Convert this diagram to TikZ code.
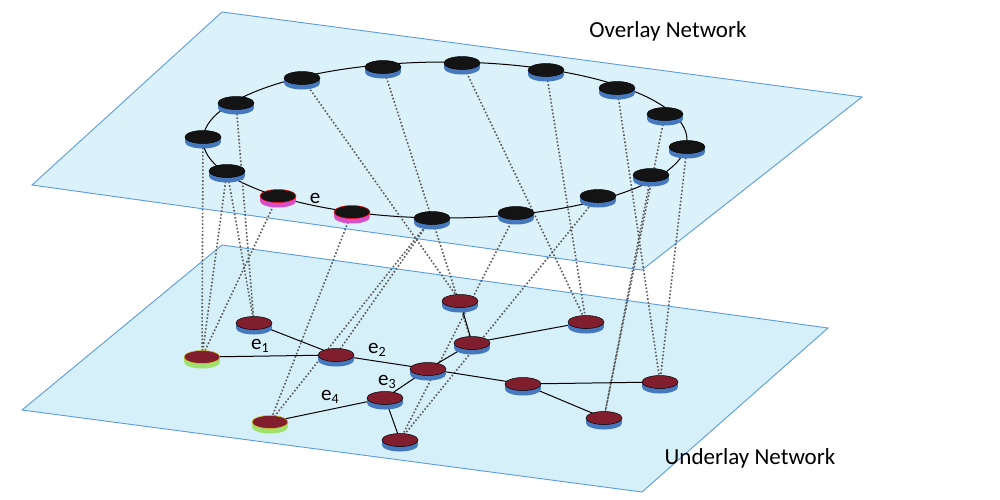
\documentclass[tikz,border=0pt]{standalone}
\usepackage{fontspec}
\setmainfont{Carlito}
\usetikzlibrary{shapes.geometric}
\definecolor{plane}{RGB}{214,240,250}
\definecolor{planeedge}{RGB}{90,155,225}
\definecolor{rim}{RGB}{70,120,190}
\definecolor{ovtop}{RGB}{20,20,20}
\definecolor{untop}{RGB}{128,30,45}
\definecolor{pinkrim}{RGB}{215,80,200}
\definecolor{greenrim}{RGB}{160,225,110}
\tikzset{
  plane/.style={fill=plane,draw=planeedge,line width=0.9pt},
  link/.style={dotted,gray!70!black,line width=1.6pt},
  edge/.style={black,line width=1pt},
  disk/.style={ellipse,inner sep=0pt,minimum width=36pt,minimum height=13pt,draw=black,line width=0.5pt},
  lbl/.style={font=\fontsize{21}{21}\selectfont},
  title/.style={font=\fontsize{23}{23}\selectfont}
}
% \dsk{name}{x}{y}{top}{rim}{border}
\newcommand\dsk[6]{%
  \fill[#5] (#2-18,#3) rectangle (#2+18,#3+5);
  \fill[#5] (#2,#3+5) ellipse (18 and 6.5);
  \node[disk,fill=#4,draw=#6] (#1) at (#2,#3) {};}
\newcommand\sub[1]{\raisebox{-0.35ex}{\fontsize{14}{14}\selectfont #1}}
\begin{document}
\begin{tikzpicture}[x=1pt,y=-1pt]
\useasboundingbox (0,0) rectangle (1000,499);
% planes
\path[plane] (222,245) -- (828,328) -- (642,492) -- (22,410) -- cycle;
\path[plane,fill opacity=0.85] (222,12) -- (862,97) -- (642,270) -- (32,185) -- cycle;
\node[title] (ot) at (668,31) {Overlay Network};
\node[title] (ut) at (750,458) {Underlay Network};
% ring
\draw[edge] (445,140) ellipse (242 and 78);
\foreach \n/\x/\y in {o1/203/137,o2/236/103,o3/302/78,o4/383/67,o5/462/63,o6/546/70,o7/617/88,o8/665/114,o9/687/147,o10/651/175,o11/598/196,o12/516/213,o13/432/218,o14/352/212,o15/278/196,o16/227/171,
 a/254/323,b/202/357,c/336/355,d/460/301,e/472/343,f/586/322,g/428/369,h/385/398,i/270/422,j/400/440,k/523/384,l/660/382,m/604/418}
  \coordinate (p\n) at (\x,\y);
% dotted links
\foreach \u/\v in {o1/b,o2/a,o16/a,o15/b,o14/i,o3/d,o4/e,o5/f,o6/f,o7/l,o8/m,o9/l,o10/m,o11/j,o12/j,o13/i,o13/c,o16/b}
  \draw[link] (p\u) -- (p\v);
% underlay edges
\foreach \u/\v in {a/c,b/c,c/g,d/e,e/g,e/f,g/h,h/i,h/j,g/k,k/l,k/m}
  \draw[edge] (p\u) -- (p\v);
% overlay disks
\dsk{n1}{203}{137}{ovtop}{rim}{black}
\dsk{n2}{236}{103}{ovtop}{rim}{black}
\dsk{n3}{302}{78}{ovtop}{rim}{black}
\dsk{n4}{383}{67}{ovtop}{rim}{black}
\dsk{n5}{462}{63}{ovtop}{rim}{black}
\dsk{n6}{546}{70}{ovtop}{rim}{black}
\dsk{n7}{617}{88}{ovtop}{rim}{black}
\dsk{n8}{665}{114}{ovtop}{rim}{black}
\dsk{n9}{687}{147}{ovtop}{rim}{black}
\dsk{n10}{651}{175}{ovtop}{rim}{black}
\dsk{n11}{598}{196}{ovtop}{rim}{black}
\dsk{n12}{516}{213}{ovtop}{rim}{black}
\dsk{n13}{432}{218}{ovtop}{rim}{black}
\dsk{n14}{352}{212}{ovtop}{pinkrim}{red}
\dsk{n15}{278}{196}{ovtop}{pinkrim}{red}
\dsk{n16}{227}{171}{ovtop}{rim}{black}
% underlay disks
\dsk{ua}{254}{323}{untop}{rim}{black}
\dsk{ub}{202}{357}{untop}{greenrim}{yellow!80!black}
\dsk{uc}{336}{355}{untop}{rim}{black}
\dsk{ud}{460}{301}{untop}{rim}{black}
\dsk{ue}{472}{343}{untop}{rim}{black}
\dsk{uf}{586}{322}{untop}{rim}{black}
\dsk{ug}{428}{369}{untop}{rim}{black}
\dsk{uh}{385}{398}{untop}{rim}{black}
\dsk{ui}{270}{422}{untop}{greenrim}{yellow!80!black}
\dsk{uj}{400}{440}{untop}{rim}{black}
\dsk{uk}{523}{384}{untop}{rim}{black}
\dsk{ul}{660}{382}{untop}{rim}{black}
\dsk{um}{604}{418}{untop}{rim}{black}
% labels
\node[lbl] (le) at (315,198) {e};
\node[lbl] (l1) at (260,346) {e\sub{1}};
\node[lbl] (l2) at (377,350) {e\sub{2}};
\node[lbl] (l3) at (387,382) {e\sub{3}};
\node[lbl] (l4) at (330,397) {e\sub{4}};
\end{tikzpicture}
\end{document}
